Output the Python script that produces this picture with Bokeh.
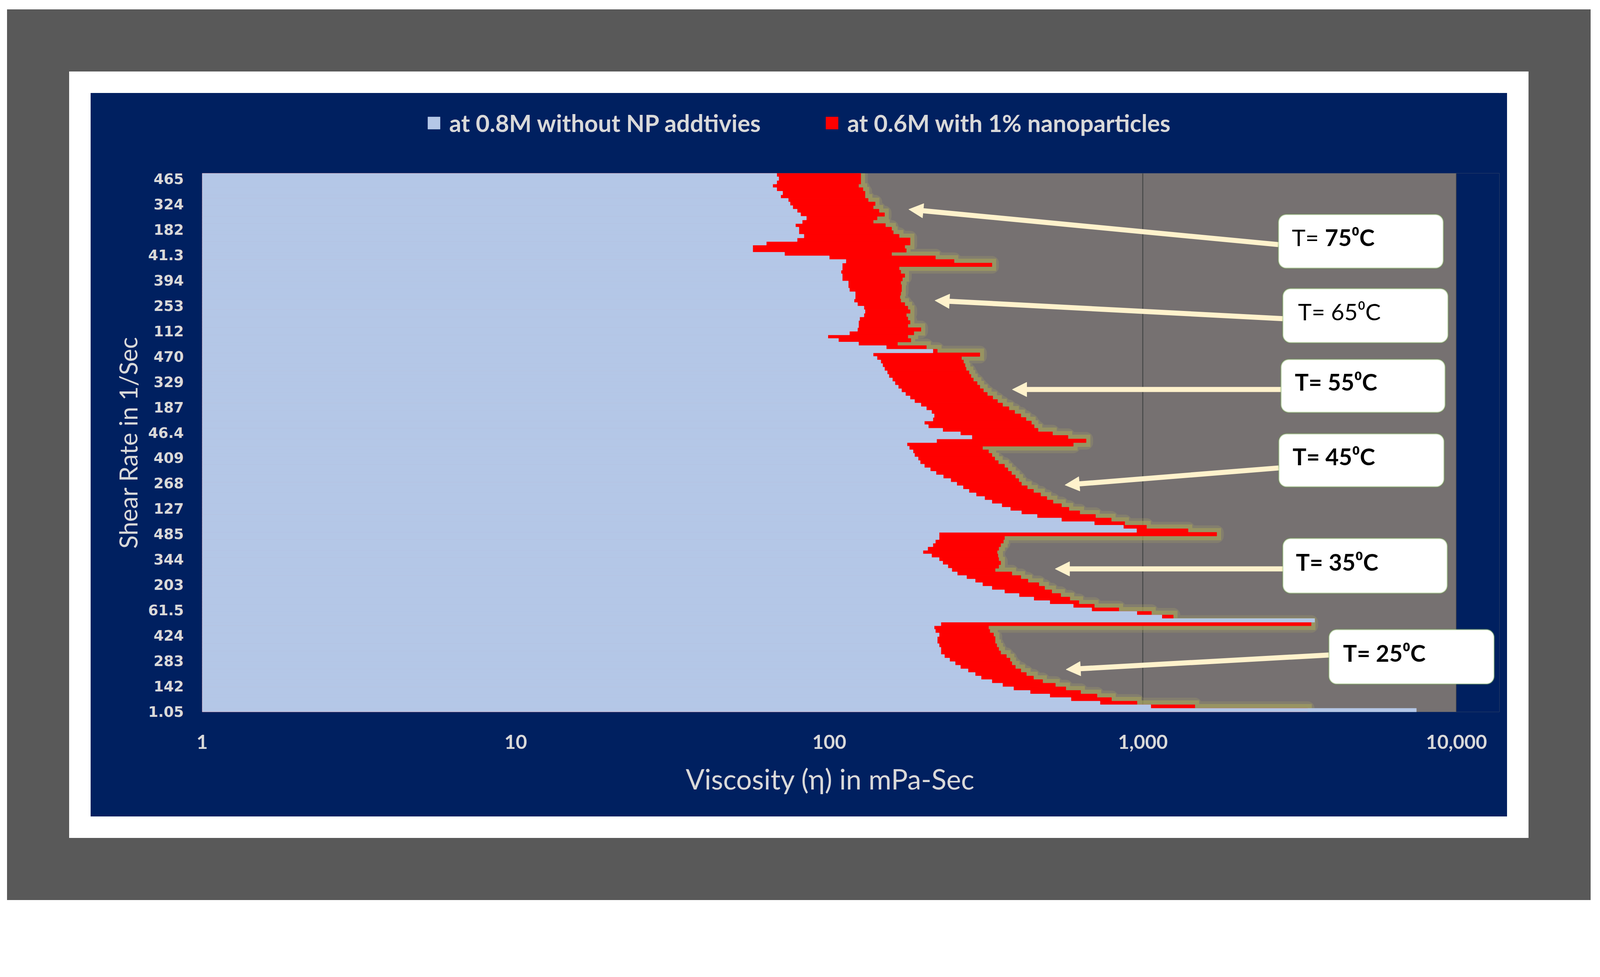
from bokeh.plotting import figure
from bokeh.layouts import column
from bokeh.models import (Range1d, FixedTicker, NumeralTickFormatter, BoxAnnotation, Label,
                          Arrow, NormalHead, Legend, LegendItem, ColumnDataSource, Title)
from bokeh.embed import file_html
from bokeh.resources import INLINE

# ---------------- data ----------------
# shear-rate category labels (1/Sec), shown every 30th category, bottom -> top
shear_rate_labels = ["1.05", "142", "283", "424", "61.5", "203", "344", "485", "127", "268", "409",
                     "46.4", "187", "329", "470", "112", "253", "394", "41.3", "182", "324", "465"]
temperatures = ["25", "35", "45", "55", "65", "75"]

# viscosity (mPa-Sec), each list goes from low to high shear rate (bottom -> top of its block)
visc_25C_without_np = [7450, 1060, 730, 590, 505, 437, 387, 357, 330, 305, 292, 277, 262, 252, 242,
                       233, 227, 227, 224, 221, 221, 224, 218, 216, 227]
visc_25C_with_np = [3350, 1465, 958, 794, 714, 633, 568, 526, 479, 448, 425, 408, 392, 382, 377,
                    367, 352, 347, 342, 338, 338, 334, 325, 322, 3440]
visc_35C_without_np = [3530, 1150, 957, 687, 600, 505, 449, 403, 362, 330, 308, 292, 274, 256, 246,
                       239, 230, 224, 212, 199, 206, 214, 218, 224, 224]
visc_35C_with_np = [1180, 1250, 1065, 838, 700, 625, 585, 547, 512, 486, 466, 430, 408, 382, 338,
                    347, 352, 347, 345, 343, 347, 352, 359, 362, 1720]
visc_45C_without_np = [955, 867, 700, 550, 460, 410, 378, 355, 330, 313, 294, 279, 267, 255, 244,
                       231, 219, 210, 201, 195, 192, 187, 185, 180, 177]
visc_45C_with_np = [1393, 1027, 875, 793, 706, 629, 581, 550, 517, 494, 472, 448, 428, 410, 402,
                    392, 381, 371, 362, 346, 337, 330, 322, 308, 600]
visc_55C_without_np = [220, 285, 262, 230, 207, 201, 214, 216, 212, 204, 196, 187, 181, 175, 170,
                       166, 162, 159, 155, 153, 150, 148, 146, 142, 138]
visc_55C_with_np = [659, 577, 515, 463, 450, 441, 424, 408, 390, 374, 357, 344, 332, 319, 310,
                    302, 296, 288, 283, 279, 273, 271, 268, 264, 302]
visc_65C_without_np = [214, 152, 124, 107, 99, 116, 123, 124, 124, 125, 129, 130, 129, 123, 120,
                       121, 121, 116, 115, 115, 110, 110, 109, 110, 110]
visc_65C_with_np = [221, 204, 165, 182, 178, 186, 196, 178, 181, 178, 176, 181, 178, 174, 169,
                    168, 169, 170, 170, 169, 171, 174, 169, 167, 330]
visc_75C_without_np = [113, 100, 72, 57, 57, 63, 79, 83, 80, 80, 78, 82, 84.5, 81, 79,
                       76.5, 75, 74, 70, 71, 68, 66, 68, 69, 68]
visc_75C_with_np = [250, 218, 158, 176, 174, 181, 181, 167, 160, 158, 151, 138, 142, 150, 144,
                    138, 140, 133, 130, 130, 128, 124, 126, 126, 126]

series_without = [visc_25C_without_np, visc_35C_without_np, visc_45C_without_np,
                  visc_55C_without_np, visc_65C_without_np, visc_75C_without_np]
series_with = [visc_25C_with_np, visc_35C_with_np, visc_45C_with_np,
               visc_55C_with_np, visc_65C_with_np, visc_75C_with_np]

# ---------------- layout constants ----------------
S = 4096 / 4406             # page css px per reference px
OX, OY = 232, 238           # page position of the navy chart area (css px)
W, H = 3626, 1852           # navy chart area
TOP = 150                   # height of the legend strip
H2 = H - TOP                # main figure height
FL, FT, FW, FH = 285, 55, 3211, 1379   # plot area (1 .. 10,000) inside the main figure
EXT = 110                   # extra frame width right of the plot area (room for a callout)
N_CAT = 637
LABEL_EVERY = 30
NAVY = "#002060"
text_gray = "#D9D9D9"
blue_c, red_c = "#B4C7E7", "#FF0000"
X_MAX = 10000
X_TITLE_W = 736             # rendered width of the x-axis title text


def cx(r):  # reference px -> main canvas px
    return r * S - OX


def cy(r):
    return r * S - OY - TOP


def sz(v):
    return f"{round(v * S)}px"


blue_vals = [v for g in series_without for v in g]
red_vals = [v for g in series_with for v in g]
n_rows = len(blue_vals)
row_h = N_CAT / n_rows
y_c = [(i + 0.5) * row_h - 0.5 for i in range(n_rows)]
src = ColumnDataSource(dict(y=y_c, blue=blue_vals, red=red_vals))

p = figure(width=W, height=H2, x_axis_type="log",
           x_range=Range1d(1, X_MAX * 10 ** (4.0 * EXT / FW)), y_range=Range1d(-0.5, N_CAT - 0.5),
           output_backend="svg", toolbar_location=None,
           min_border_left=FL, min_border_top=FT,
           min_border_right=W - FL - FW - EXT, min_border_bottom=H2 - FT - FH)
p.border_fill_color = NAVY
p.background_fill_color = "#767171"
p.outline_line_color = None

# axes
xt = [1, 10, 100, 1000, 10000]
p.xaxis.ticker = FixedTicker(ticks=xt)
p.xaxis.formatter = NumeralTickFormatter(format="0,0")
p.xgrid.ticker = FixedTicker(ticks=xt)
p.xgrid.grid_line_color = "#4D4D4D"
p.xgrid.grid_line_width = 3
p.ygrid.grid_line_color = None

# navy strip to the right of the 10,000 edge of the plot area
p.add_layout(BoxAnnotation(left=X_MAX, fill_color=NAVY, fill_alpha=1, line_color=None,
                           level="underlay"))

# soft glow along the red series outline
gx, gy = [], []
for yy, rv in zip(y_c, red_vals):
    gx += [rv, rv]
    gy += [yy - row_h / 2, yy + row_h / 2]
p.line(gx, gy, line_color="#b3ae66", line_width=36, line_alpha=0.22, line_join="round")
p.line(gx, gy, line_color="#a39f5c", line_width=22, line_alpha=0.65, line_join="miter")

p.hbar(y="y", left=1, right="red", height=row_h, source=src,
       fill_color=red_c, line_color=red_c, line_width=1)
p.hbar(y="y", left=1, right="blue", height=row_h, source=src,
       fill_color=blue_c, line_color=blue_c, line_width=1)

yt = [LABEL_EVERY * j for j in range(len(shear_rate_labels))]
p.yaxis.ticker = FixedTicker(ticks=yt)
p.yaxis.major_label_overrides = {t: lab for t, lab in zip(yt, shear_rate_labels)}
p.yaxis.axis_label = "Shear Rate in 1/Sec"

for ax in (p.xaxis, p.yaxis):
    ax.axis_line_color = None
    ax.major_tick_line_color = None
    ax.minor_tick_line_color = None
    ax.major_tick_out = 0
    ax.major_tick_in = 0
    ax.minor_tick_out = 0
    ax.major_label_text_color = text_gray
    ax.axis_label_text_color = text_gray
    ax.axis_label_text_font = "Lato"
    ax.axis_label_text_font_style = "normal"

p.yaxis.major_label_text_font = "DejaVu Sans"
p.yaxis.major_label_text_font_style = "bold"
p.yaxis.major_label_text_font_size = sz(40)
p.yaxis.major_label_standoff = 47
p.yaxis.axis_label_text_font_size = sz(68)
p.yaxis.axis_label_standoff = 11

p.xaxis.major_label_text_font = "Lato"
p.xaxis.major_label_text_font_style = "bold"
p.xaxis.major_label_text_font_size = sz(54)
p.xaxis.major_label_standoff = 58

# x-axis title, centred under the plot area (1 .. 10,000)
x_title = Title(text="Viscosity (η) in mPa-Sec", align="left",
                offset=round(FW / 2 - X_TITLE_W / 2),
                text_font="Lato", text_font_style="normal", text_font_size=sz(76),
                text_color=text_gray, standoff=58)
p.add_layout(x_title, "below")


# callouts (positions given in reference pixels)
def xd(c):
    return 10 ** (4.0 * (c - FL) / FW)


def yd(c):
    return (N_CAT - 0.5) - (c - FT) / FH * N_CAT


cream = "#FFF2CC"
callouts = [
    # temp, box l,t,r,b, text x, arrow start, arrow tip, style
    ("75", (3520, 590, 3974, 738), 3557, (3520, 673), (2502, 576), "split"),
    ("65", (3532, 794, 3987, 943), 3574, (3532, 877), (2574, 827), "normal"),
    ("55", (3527, 989, 3979, 1135), 3565, (3527, 1072), (2787, 1072), "bold"),
    ("45", (3521, 1194, 3976, 1340), 3559, (3521, 1288), (2932, 1335), "bold"),
    ("35", (3532, 1482, 3985, 1633), 3568, (3532, 1566), (2905, 1566), "bold"),
    ("25", (3659, 1733, 4114, 1883), 3698, (3659, 1803), (2935, 1843), "bold"),
]
for temp, (l, t, r, b), tx, (sx_, sy_), (ex_, ey_), style in callouts:
    sx, sy, ex, ey = cx(sx_), cy(sy_), cx(ex_), cy(ey_)
    dx, dy = sx - ex, sy - ey
    dl = (dx * dx + dy * dy) ** 0.5
    bx, by = ex + dx / dl * 32, ey + dy / dl * 32
    p.add_layout(Arrow(x_start=xd(sx), y_start=yd(sy), x_end=xd(bx), y_end=yd(by), end=None,
                       line_color=cream, line_width=13, line_cap="butt"))
    p.add_layout(Arrow(x_start=xd(bx + dx / dl * 10), y_start=yd(by + dy / dl * 10),
                       x_end=xd(ex), y_end=yd(ey), line_alpha=0,
                       end=NormalHead(size=37, fill_color=cream, line_color=cream)))
    p.add_layout(BoxAnnotation(left=cx(l), right=cx(r), top=cy(t), bottom=cy(b),
                               left_units="canvas", right_units="canvas",
                               top_units="canvas", bottom_units="canvas",
                               fill_color="white", fill_alpha=1, line_color="#70AD47",
                               line_width=4, border_radius=20, level="annotation"))
    base = cy((t + b) / 2 - 11)
    common = dict(y=base, x_units="canvas", y_units="canvas", text_font="Lato",
                  text_font_size=sz(64), text_color="black", text_baseline="alphabetic")
    if style == "split":
        p.add_layout(Label(x=cx(tx), text="T=", text_font_style="normal", **common))
        p.add_layout(Label(x=cx(tx + 91), text=temp + "⁰C", text_font_style="bold", **common))
    else:
        p.add_layout(Label(x=cx(tx), text="T= " + temp + "⁰C", text_font_style=style, **common))

# ---------------- legend strip above the plot ----------------
pl = figure(width=W, height=TOP, x_range=Range1d(0, 1), y_range=Range1d(0, 1),
            output_backend="svg", toolbar_location=None, min_border=0,
            x_axis_location=None, y_axis_location=None)
pl.border_fill_alpha = 0
pl.background_fill_alpha = 0
pl.outline_line_color = None
pl.xgrid.visible = False
pl.ygrid.visible = False
# legend proxies: one bar each, placed outside the visible range of this strip
leg_blue = pl.hbar(y=[5], left=[5], right=[6], height=1, fill_color=blue_c, line_color=blue_c)
leg_red = pl.hbar(y=[5], left=[5], right=[6], height=1, fill_color=red_c, line_color=red_c)
legend = Legend(items=[LegendItem(label="at 0.8M without NP addtivies", renderers=[leg_blue]),
                       LegendItem(label="at 0.6M with 1% nanoparticles", renderers=[leg_red])],
                location=(round((1173 - 556) * S), 37), orientation="horizontal",
                padding=0, margin=0, spacing=round(152 * S), label_standoff=round(21 * S),
                glyph_width=round(42 * S), glyph_height=round(42 * S), label_width=round(881 * S),
                background_fill_alpha=0, border_line_color=None,
                label_text_color=text_gray, label_text_font="Lato",
                label_text_font_style="bold", label_text_font_size=sz(66))
pl.add_layout(legend, "center")

lay = column(pl, p, spacing=0, width=W, height=H)
lay.margin = (OY, 0, 0, OX)
lay.styles = {"background-color": NAVY,
              "box-shadow": f"0 0 0 {round(59 * S)}px #FFFFFF, 0 0 0 {round(230 * S)}px #595959"}

open("out.html", "w").write(file_html(lay, INLINE))
